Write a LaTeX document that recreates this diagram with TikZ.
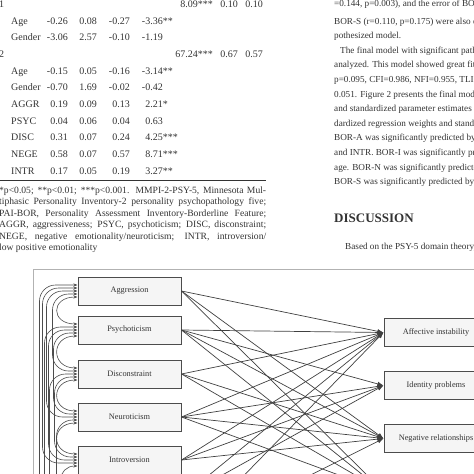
\documentclass[tikz,border=0pt]{standalone}
\usepackage{fontspec}
\setmainfont{Liberation Serif}
\usetikzlibrary{positioning,arrows.meta}

\begin{document}
\begin{tikzpicture}[x=1pt,y=-1pt,
  every node/.style={inner sep=0pt, text=black!80},
  tab/.style ={font=\fontsize{10}{12}\selectfont},
  num/.style ={tab, anchor=base east},
  lab/.style ={tab, anchor=base west},
  foot/.style={font=\fontsize{9.6}{11}\selectfont, anchor=base west},
  body/.style={font=\fontsize{9.2}{14}\selectfont, anchor=base west},
  psy/.style ={draw=black!70, line width=1pt, fill=black!4,
               minimum width=103pt, minimum height=28pt,
               font=\fontsize{8.3}{10}\selectfont},
  bor/.style ={psy, minimum width=104pt},
  arr/.style ={-{Latex[length=6pt,width=4.5pt]}, draw=black!75, line width=0.7pt},
  cov/.style ={{Stealth[length=4pt,width=3pt]}-{Stealth[length=4pt,width=3pt]},
               draw=black!70, line width=0.6pt},
  frame/.style={draw=black!30, line width=0.8pt}
]
\useasboundingbox (0,0) rectangle (474,474);
\clip (0,0) rectangle (474,474);

% table rows
\node[lab] (m1) at (-1,7) {1};
\node[num] (r1) at (213,7) {8.09***};
\node[num] (r1a) at (238,7) {0.10};
\node[num] (r1b) at (263,7) {0.10};
\node[lab] (a1) at (11,24) {Age};
\node[num] at (68,24) {-0.26};  \node[num] at (97,24) {0.08};
\node[num] at (130,24) {-0.27}; \node[num] at (163,24) {-3.36\rlap{**}};
\node[lab] (g1) at (11,40.5) {Gender};
\node[num] at (68,40.5) {-3.06};  \node[num] at (97,40.5) {2.57};
\node[num] at (130,40.5) {-0.10}; \node[num] at (163,40.5) {-1.19};
\node[lab] (m2) at (-1,57) {2};
\node[num] (r2) at (213,57) {67.24***};
\node[num] (r2a) at (238,57) {0.67};
\node[num] (r2b) at (263,57) {0.57};
\node[lab] (a2) at (11,74) {Age};
\node[num] at (68,74) {-0.15};  \node[num] at (97,74) {0.05};
\node[num] at (130,74) {-0.16}; \node[num] at (163,74) {-3.14\rlap{**}};
\node[lab] (g2) at (11,90.5) {Gender};
\node[num] at (68,90.5) {-0.70};  \node[num] at (97,90.5) {1.69};
\node[num] at (130,90.5) {-0.02}; \node[num] at (163,90.5) {-0.42};
\node[lab] (ag) at (11,107) {AGGR};
\node[num] at (68,107) {0.19};  \node[num] at (97,107) {0.09};
\node[num] at (130,107) {0.13}; \node[num] at (163,107) {2.21\rlap{*}};
\node[lab] (ps) at (11,124) {PSYC};
\node[num] at (68,124) {0.04};  \node[num] at (97,124) {0.06};
\node[num] at (130,124) {0.04}; \node[num] at (163,124) {0.63};
\node[lab] (di) at (11,140.5) {DISC};
\node[num] at (68,140.5) {0.31};  \node[num] at (97,140.5) {0.07};
\node[num] at (130,140.5) {0.24}; \node[num] at (163,140.5) {4.25\rlap{***}};
\node[lab] (ne) at (11,157) {NEGE};
\node[num] at (68,157) {0.58};  \node[num] at (97,157) {0.07};
\node[num] at (130,157) {0.57}; \node[num] at (163,157) {8.71\rlap{***}};
\node[lab] (in) at (11,174) {INTR};
\node[num] at (68,174) {0.17};  \node[num] at (97,174) {0.05};
\node[num] at (130,174) {0.19}; \node[num] at (163,174) {3.27\rlap{**}};
\draw[black!80, line width=0.6pt] (0,180) -- (266,180);

% table note
\node[foot] at (-1,193) {\makebox[267pt][s]{*p<0.05; **p<0.01; ***p<0.001. MMPI-2-PSY-5, Minnesota Mul-}};
\node[foot] at (-1,204.5) {\makebox[267pt][s]{tiphasic Personality Inventory-2 personality psychopathology five;}};
\node[foot] at (-1,216) {\makebox[267pt][s]{PAI-BOR, Personality Assessment Inventory-Borderline Feature;}};
\node[foot] at (-1,227.5) {\makebox[267pt][s]{AGGR, aggressiveness; PSYC, psychoticism; DISC, disconstraint;}};
\node[foot] at (-1,239) {\makebox[267pt][s]{NEGE, negative emotionality/neuroticism; INTR, introversion/}};
\node[foot] at (-1,250) {low positive emotionality};

% right column
\node[body] at (334,6) {=0.144, p=0.003), and the error of BOR-};
\node[body] at (334,24) {BOR-S (r=0.110, p=0.175) were also ex};
\node[body] at (334,38.6) {pothesized model.};
\node[body] at (340,53.2) {The final model with significant paths};
\node[body] at (334,67.8) {analyzed. This model showed great fit};
\node[body] at (334,82.4) {p=0.095, CFI=0.986, NFI=0.955, TLI=};
\node[body] at (334,97) {0.051. Figure 2 presents the final model};
\node[body] at (334,111.6) {and standardized parameter estimates an};
\node[body] at (334,126.2) {dardized regression weights and standar};
\node[body] at (334,140.8) {BOR-A was significantly predicted by A};
\node[body] at (334,155.4) {and INTR. BOR-I was significantly pre};
\node[body] at (334,170) {age. BOR-N was significantly predicted};
\node[body] at (334,184.6) {BOR-S was significantly predicted by D};
\node[body, font=\fontsize{13}{15}\selectfont\bfseries] at (334,222) {DISCUSSION};
\node[body] at (345,249.5) {Based on the PSY-5 domain theory, th};

% figure frame
\draw[frame] (33,269.5) rectangle (500,500);

% PSY-5 domains
\node[psy] (aggr) at (129.5,291) {Aggression};
\node[psy, below=10pt of aggr] (psyc) {Psychoticism};
\node[psy, below=15pt of psyc] (disc) {Disconstraint};
\node[psy, below=14pt of disc] (neur) {Neuroticism};
\node[psy, below=14pt of neur] (intr) {Introversion};
\coordinate (agew) at (78,512);
\coordinate (agee) at (181,498);
\coordinate (gnde) at (181,540);

% PAI-BOR subscales
\node[bor] (affi) at (436,332.5) {Affective instability};
\node[bor, below=24pt of affi] (iden) {Identity problems};
\node[bor, below=24pt of iden] (negr) {Negative relationships};
\node[bor, below=24pt of negr] (selh) {};

% covariances
\draw[cov] ([yshift=-6pt]aggr.west) .. controls +(-27pt,0) and +(-27pt,0) .. ([yshift=6pt]psyc.west);
\draw[cov] ([yshift=-6pt]psyc.west) .. controls +(-27pt,0) and +(-27pt,0) .. ([yshift=6pt]disc.west);
\draw[cov] ([yshift=-6pt]disc.west) .. controls +(-27pt,0) and +(-27pt,0) .. ([yshift=6pt]neur.west);
\draw[cov] ([yshift=-6pt]neur.west) .. controls +(-27pt,0) and +(-27pt,0) .. ([yshift=6pt]intr.west);
\draw[cov, rounded corners=16pt] ([yshift=-3pt]aggr.west) -- ++(-25pt,0) |- ([yshift=3pt]disc.west);
\draw[cov, rounded corners=16pt] ([yshift=-3pt]psyc.west) -- ++(-24pt,0) |- ([yshift=3pt]neur.west);
\draw[cov, rounded corners=16pt] ([yshift=-3pt]disc.west) -- ++(-23pt,0) |- ([yshift=3pt]intr.west);
\draw[cov, rounded corners=16pt] (aggr.west) -- ++(-31pt,0) |- (neur.west);
\draw[cov, rounded corners=16pt] (psyc.west) -- ++(-29pt,0) |- (intr.west);
\draw[cov, rounded corners=16pt] ([yshift=3pt]aggr.west) -- ++(-35pt,0) |- ([yshift=-3pt]intr.west);
\draw[cov, rounded corners=16pt] ([yshift=6pt]aggr.west) -- ++(-38pt,0) |- (agew);
\draw[cov, rounded corners=16pt] ([yshift=3pt]psyc.west) -- ++(-33pt,0) |- (agew);
\draw[cov, rounded corners=16pt] (disc.west) -- ++(-28pt,0) |- (agew);
\draw[cov, rounded corners=16pt] ([yshift=-3pt]neur.west) -- ++(-21pt,0) |- (agew);
\draw[cov, rounded corners=14pt] ([yshift=-6pt]intr.west) -- ++(-17pt,0) |- (agew);

% regression paths
\draw[arr] (aggr.east) -- (affi.west);
\draw[arr] (aggr.east) -- (negr.west);
\draw[arr] (aggr.east) -- (selh.west);
\draw[arr] (psyc.east) -- (affi.west);
\draw[arr] (psyc.east) -- (iden.west);
\draw[arr] (psyc.east) -- (negr.west);
\draw[arr] (psyc.east) -- (selh.west);
\draw[arr] (disc.east) -- (affi.west);
\draw[arr] (disc.east) -- (negr.west);
\draw[arr] (disc.east) -- (selh.west);
\draw[arr] (neur.east) -- (affi.west);
\draw[arr] (neur.east) -- (iden.west);
\draw[arr] (neur.east) -- (negr.west);
\draw[arr] (neur.east) -- (selh.west);
\draw[arr] (intr.east) -- (affi.west);
\draw[arr] (intr.east) -- (iden.west);
\draw[arr] (intr.east) -- (negr.west);
\draw[arr] (agee) -- (affi.west);
\draw[arr] (agee) -- (iden.west);
\draw[arr] (gnde) -- (affi.west);
\draw[arr] (gnde) -- (negr.west);

\end{tikzpicture}
\end{document}
